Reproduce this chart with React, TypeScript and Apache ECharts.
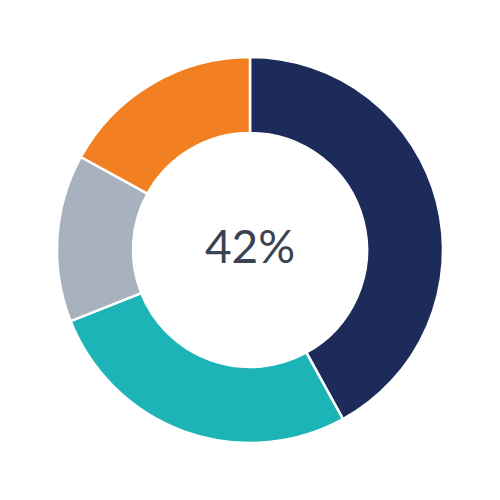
import React, { useEffect, useRef } from "react";
import * as echarts from "echarts";

const categories = ["Navy", "Teal", "Gray", "Orange"];
const values = [42, 27, 14, 17];
const colors = ["#1c2b5a", "#1cb4b6", "#a8b2bf", "#f27f21"];
const centerLabel = "42%";

export default function App() {
  const ref = useRef<HTMLDivElement>(null);
  useEffect(() => {
    if (!ref.current) return;
    const chart = echarts.init(ref.current, null, { renderer: "svg" });
    chart.setOption({
      animation: false,
      backgroundColor: "#ffffff",
      series: [
        {
          type: "pie",
          center: [250, 250],
          radius: [117, 193],
          startAngle: 90,
          clockwise: true,
          label: { show: false },
          labelLine: { show: false },
          emphasis: { disabled: true },
          itemStyle: { borderColor: "#ffffff", borderWidth: 2.5 },
          data: categories.map((c, i) => ({
            name: c,
            value: values[i],
            itemStyle: { color: colors[i] },
          })),
        },
      ],
      graphic: [
        {
          type: "text",
          left: "center",
          top: 222,
          style: {
            text: centerLabel,
            font: "46px Lato",
            fill: "#3a4350",
          },
        },
      ],
    });
    return () => chart.dispose();
  }, []);
  return (
    <div
      ref={ref}
      style={{ position: "absolute", left: 0, top: 0, width: 500, height: 500 }}
    />
  );
}
